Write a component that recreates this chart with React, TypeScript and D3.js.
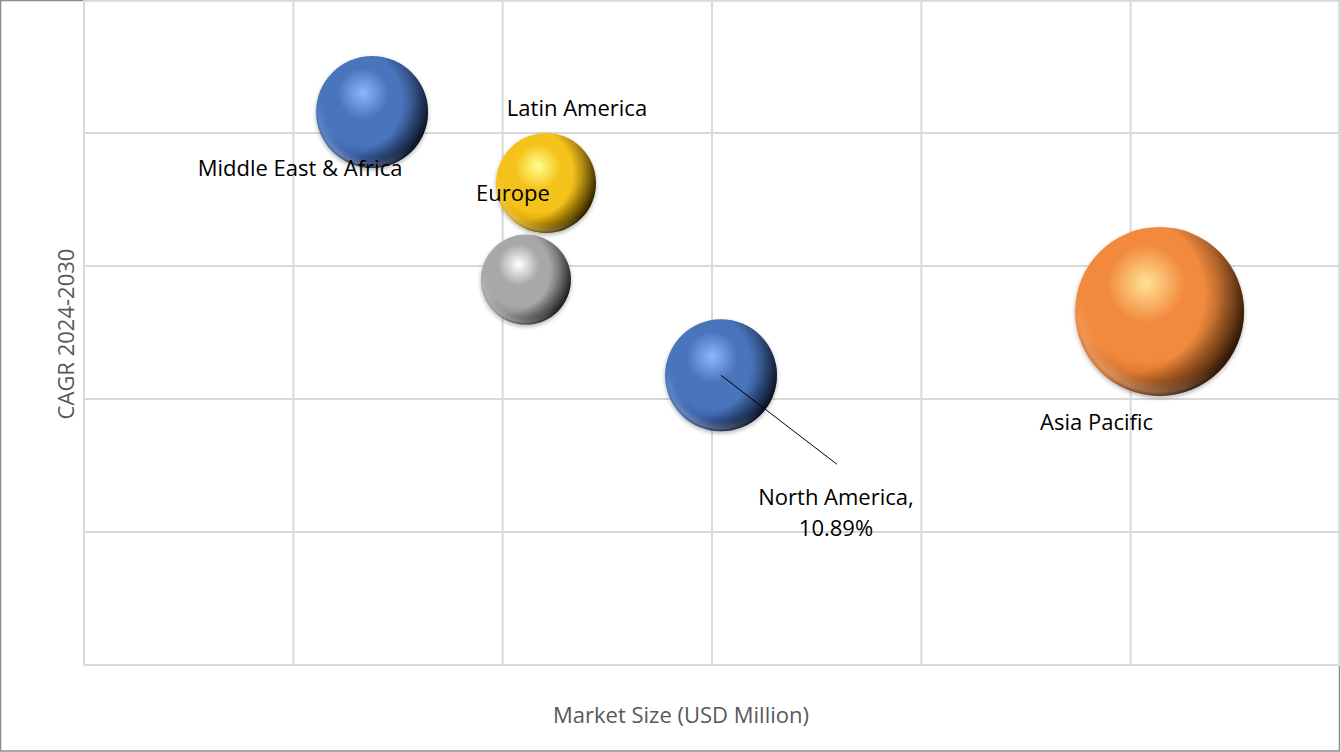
import React from "react";
import * as d3 from "d3";

const regions = ["Middle East & Africa", "Latin America", "Europe", "North America", "Asia Pacific"];
const marketSize = [13.76, 22.07, 21.11, 30.43, 51.38];
const cagr = [20.79, 18.12, 14.49, 10.89, 13.29];
const bubbleSize = [43.9, 35.0, 28.4, 43.9, 100];
const xTicks = [0, 10, 20, 30, 40, 50, 60];
const yTicks = [0, 5, 10, 15, 20, 25];

const palette = [
  { hi: "#8db6fb", base: "#4a74bd", mid: "#345a9e", dark: "#1a2f57" },
  { hi: "#ffff8c", base: "#f5c21a", mid: "#d09e00", dark: "#7a5a00" },
  { hi: "#ffffff", base: "#a8a8a8", mid: "#888888", dark: "#505050" },
  { hi: "#8db6fb", base: "#4a74bd", mid: "#345a9e", dark: "#1a2f57" },
  { hi: "#ffe394", base: "#f28a3e", mid: "#c86a25", dark: "#6e3610" },
];

const labelOffsets = [
  { dx: -72, dy: 56 },
  { dx: 31, dy: -75 },
  { dx: -13, dy: -86 },
  { dx: 115, dy: 122 },
  { dx: -63, dy: 111 },
];

export default function App() {
  const W = 1341, H = 752;
  const x = d3.scaleLinear().domain([0, 60]).range([84, 1340]);
  const y = d3.scaleLinear().domain([0, 25]).range([665, 0]);
  const r = d3.scaleSqrt().domain([0, 100]).range([0, 84.5]);
  const font = "'Open Sans', 'Noto Sans', sans-serif";
  const fs = 22;

  return (
    <svg width={W} height={H} style={{ position: "absolute", left: 0, top: 0, background: "#fff" }}>
      <defs>
        {palette.map((p, i) => (
          <radialGradient key={i} id={`g${i}`} cx="42%" cy="35%" r="72%" fx="42%" fy="33%">
            <stop offset="0%" stopColor={p.hi} />
            <stop offset="32%" stopColor={p.base} />
            <stop offset="62%" stopColor={p.base} />
            <stop offset="82%" stopColor={p.mid} />
            <stop offset="100%" stopColor={p.dark} />
          </radialGradient>
        ))}
        <radialGradient id="shade" cx="30%" cy="40%" r="75%">
          <stop offset="62%" stopColor="#000" stopOpacity="0" />
          <stop offset="85%" stopColor="#000" stopOpacity="0.45" />
          <stop offset="100%" stopColor="#000" stopOpacity="0.85" />
        </radialGradient>
        <radialGradient id="rim" cx="50%" cy="50%" r="50%">
          <stop offset="82%" stopColor="#fff" stopOpacity="0" />
          <stop offset="95%" stopColor="#fff" stopOpacity="0.3" />
          <stop offset="100%" stopColor="#fff" stopOpacity="0.05" />
        </radialGradient>
        <linearGradient id="rimMaskGrad" x1="0.7" y1="0.2" x2="0.3" y2="1">
          <stop offset="55%" stopColor="#000" />
          <stop offset="100%" stopColor="#fff" />
        </linearGradient>
        <mask id="rimMask" maskContentUnits="objectBoundingBox">
          <rect x="0" y="0" width="1" height="1" fill="url(#rimMaskGrad)" />
        </mask>
        <filter id="shadow" x="-20%" y="-20%" width="140%" height="150%">
          <feDropShadow dx="0" dy="2" stdDeviation="2" floodColor="#000" floodOpacity="0.3" />
        </filter>
      </defs>
      <rect x={0.5} y={0.5} width={W - 2} height={H - 1.5} fill="#fff" stroke="#8c8c8c" strokeWidth={1.5} />
      {xTicks.map((t) => (
        <line key={"x" + t} x1={x(t)} x2={x(t)} y1={y(25)} y2={y(0)} stroke="#d9d9d9" strokeWidth={2} />
      ))}
      {yTicks.map((t) => (
        <line key={"y" + t} x1={x(0)} x2={x(60)} y1={y(t)} y2={y(t)} stroke="#d9d9d9" strokeWidth={2} />
      ))}
      {regions.map((name, i) => {
        const cx = x(marketSize[i]);
        const cy = y(cagr[i]);
        const rr = r(bubbleSize[i]);
        return (
          <g key={name}>
            <circle cx={cx} cy={cy} r={rr} fill={`url(#g${i})`} filter="url(#shadow)" />
            <circle cx={cx} cy={cy} r={rr} fill="url(#shade)" />
            <circle cx={cx} cy={cy} r={rr} fill="url(#rim)" mask="url(#rimMask)" />
          </g>
        );
      })}
      {(() => {
        const cx = x(marketSize[3]);
        const cy = y(cagr[3]);
        return <line x1={cx} y1={cy} x2={cx + 116} y2={cy + 89} stroke="#000" strokeWidth={1} />;
      })()}
      {regions.map((name, i) => {
        const cx = x(marketSize[i]) + labelOffsets[i].dx;
        const cy = y(cagr[i]) + labelOffsets[i].dy;
        if (i === 3) {
          return (
            <text key={"l" + i} x={cx} y={cy} textAnchor="middle" fontFamily={font} fontSize={fs} fill="#000">
              <tspan x={cx} dy="0.35em">{name + ","}</tspan>
              <tspan x={cx} dy={31}>{cagr[i].toFixed(2) + "%"}</tspan>
            </text>
          );
        }
        return (
          <text key={"l" + i} x={cx} y={cy} dy="0.35em" textAnchor="middle" fontFamily={font} fontSize={fs} fill="#000">
            {name}
          </text>
        );
      })}
      <text x={681} y={715} dy="0.35em" textAnchor="middle" fontFamily={font} fontSize={fs} fill="#595959">
        Market Size (USD Million)
      </text>
      <text transform={`translate(66,334) rotate(-90)`} dy="0.35em" textAnchor="middle" fontFamily={font} fontSize={fs} fill="#595959">
        CAGR 2024-2030
      </text>
    </svg>
  );
}
